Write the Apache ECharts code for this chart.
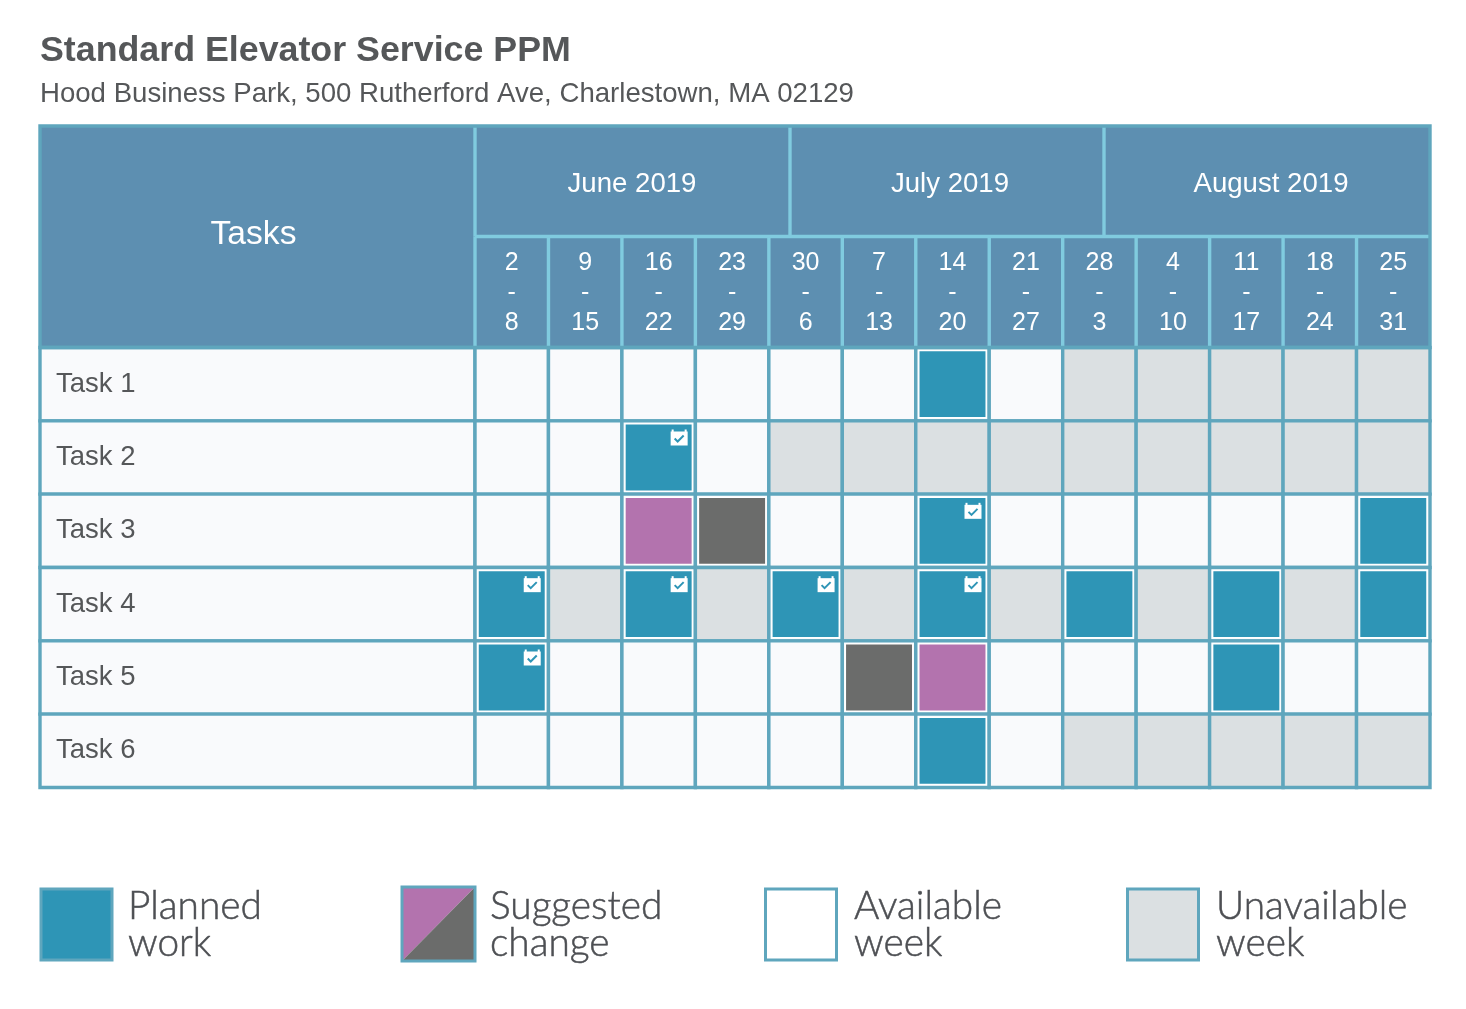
<!DOCTYPE html>
<html>
<head>
<meta charset="utf-8">
<title>Standard Elevator Service PPM</title>
<script src="https://cdn.jsdelivr.net/npm/echarts@6/dist/echarts.min.js"></script>
<style>
html, body { margin: 0; padding: 0; background: #fff; }
#chart { width: 1466px; height: 1009px; }
</style>
</head>
<body>
<div id="chart"></div>
<script>
var chartTitle = 'Standard Elevator Service PPM';
var chartSubtitle = 'Hood Business Park, 500 Rutherford Ave, Charlestown, MA 02129';
var months = ['June 2019', 'July 2019', 'August 2019'];
var weekStarts = ['2', '9', '16', '23', '30', '7', '14', '21', '28', '4', '11', '18', '25'];
var weekEnds = ['8', '15', '22', '29', '6', '13', '20', '27', '3', '10', '17', '24', '31'];
var tasks = ['Task 1', 'Task 2', 'Task 3', 'Task 4', 'Task 5', 'Task 6'];

// A available, U unavailable, P planned, D planned + done icon, S suggested, G moved away
var task1 = ['A', 'A', 'A', 'A', 'A', 'A', 'P', 'A', 'U', 'U', 'U', 'U', 'U'];
var task2 = ['A', 'A', 'D', 'A', 'U', 'U', 'U', 'U', 'U', 'U', 'U', 'U', 'U'];
var task3 = ['A', 'A', 'S', 'G', 'A', 'A', 'D', 'A', 'A', 'A', 'A', 'A', 'P'];
var task4 = ['D', 'U', 'D', 'U', 'D', 'U', 'D', 'U', 'P', 'U', 'P', 'U', 'P'];
var task5 = ['D', 'A', 'A', 'A', 'A', 'G', 'S', 'A', 'A', 'A', 'P', 'A', 'A'];
var task6 = ['A', 'A', 'A', 'A', 'A', 'A', 'P', 'A', 'U', 'U', 'U', 'U', 'U'];
var taskRows = [task1, task2, task3, task4, task5, task6];

var legendLabels = ['Planned\nwork', 'Suggested\nchange', 'Available\nweek', 'Unavailable\nweek'];

// colours
var lineColor = '#5fa6bd';
var headerColor = '#5d8fb1';
var headerLine = '#80cbdf';
var availColor = '#f9fafc';
var unavailColor = '#dbe0e2';
var plannedColor = '#2e95b6';
var suggestColor = '#b373ae';
var movedColor = '#6b6c6b';
var textColor = '#555759';

// layout
var gridL = 475, gridR = 1430, gridT = 347.5, gridB = 787.5, tableL = 40, tableT = 126;
var monthEdges = [475, 790, 1104, 1430];
var monthCentres = [632, 950, 1271];
var monthLineY = 236.5;

var weekLabels = weekStarts.map(function(s, i) {
	return s + '\n-\n' + weekEnds[i];
});

var cellData = [];
taskRows.forEach(function(row, r) {
	row.forEach(function(state, c) {
		cellData.push({ value : [c, r], state : state });
	});
});

var fillFor = { P : plannedColor, D : plannedColor, S : suggestColor, G : movedColor };

function renderCell(params, api) {
	var c = api.coord([api.value(0), api.value(1)]);
	var size = api.size([1, 1]);
	var x = c[0] - size[0] / 2, y = c[1] - size[1] / 2;
	var state = cellData[params.dataIndex].state;
	var children = [{
		type : 'rect',
		shape : { x : x, y : y, width : size[0], height : size[1] },
		style : { fill : state == 'U' ? unavailColor : availColor, stroke : lineColor, lineWidth : 3.4 }
	}];
	if (fillFor[state]) {
		children.push({
			type : 'rect',
			shape : { x : x + 3, y : y + 3, width : size[0] - 6, height : size[1] - 6 },
			style : { fill : fillFor[state], stroke : '#fff', lineWidth : 1.5 }
		});
	}
	if (state == 'D') {
		var ix = c[0] + 12, iy = c[1] - 28;
		children.push({ type : 'rect', shape : { x : ix, y : iy + 2, width : 17, height : 14 }, style : { fill : '#fff' } });
		children.push({ type : 'rect', shape : { x : ix + 1, y : iy, width : 2, height : 3 }, style : { fill : '#fff' } });
		children.push({ type : 'rect', shape : { x : ix + 14, y : iy, width : 2, height : 3 }, style : { fill : '#fff' } });
		children.push({
			type : 'polyline',
			shape : { points : [[ix + 4, iy + 9], [ix + 7, iy + 12], [ix + 13, iy + 6]] },
			style : { fill : 'none', stroke : plannedColor, lineWidth : 2 }
		});
	}
	return { type : 'group', children : children };
}

// label column on the left of the week cells
function renderTaskCell(params, api) {
	var c = api.coord([0, api.value(0)]);
	var size = api.size([1, 1]);
	return {
		type : 'rect',
		shape : { x : tableL, y : c[1] - size[1] / 2, width : gridL - tableL, height : size[1] },
		style : { fill : availColor, stroke : lineColor, lineWidth : 3.4 }
	};
}

function hLine(x1, y1, x2, y2, color, w) {
	return { type : 'line', z : 3, shape : { x1 : x1, y1 : y1, x2 : x2, y2 : y2 }, style : { stroke : color, lineWidth : w } };
}

function text(x, y, str, font, color, align) {
	return {
		type : 'text', z : 6, x : x, y : y,
		style : { text : str, font : font, fill : color, align : align || 'left', verticalAlign : 'middle' }
	};
}

// reference title is tracked out a bit, canvas text has no letter spacing here
var titleText = text(40, 51, chartTitle, 'bold 35px "Liberation Sans"', textColor);
titleText.scaleX = 1.022;

var graphics = [
	titleText,
	text(40, 94, chartSubtitle, '27.6px "Liberation Sans"', textColor),
	{
		type : 'rect', z : 1,
		shape : { x : tableL, y : tableT, width : gridR - tableL, height : gridT - tableT },
		style : { fill : headerColor }
	},
	hLine(gridL, monthLineY, gridR, monthLineY, headerLine, 3.4),
	text(253.5, 235, 'Tasks', '33.6px "Liberation Sans"', '#fff', 'center')
];

months.forEach(function(m, i) {
	graphics.push(text(monthCentres[i], 184, m, '27.6px "Liberation Sans"', '#fff', 'center'));
});
// month dividers, then week dividers
monthEdges.slice(0, 3).forEach(function(x) {
	graphics.push(hLine(x, tableT, x, monthLineY, headerLine, 3.4));
});
weekStarts.forEach(function(w, i) {
	var x = gridL + (gridR - gridL) * i / weekStarts.length;
	graphics.push(hLine(x, monthLineY, x, gridT, headerLine, 3.4));
});
// outer frame of header
graphics.push({
	type : 'rect', z : 4,
	shape : { x : tableL, y : tableT, width : gridR - tableL, height : gridT - tableT },
	style : { fill : 'none', stroke : lineColor, lineWidth : 3.4 }
});

// legend
var swatchY = 888, swatchS = 71;
var legendFont = '300 38.8px Lato, "Noto Sans"';
function legendLine(x, y, str) {
	var t = text(x, y, str, legendFont, '#4d4f53');
	t.style.stroke = '#4d4f53';
	t.style.lineWidth = 0.5;
	return t;
}
function legendText(x, label) {
	var lines = label.split('\n');
	return [legendLine(x, 906, lines[0]), legendLine(x, 943, lines[1])];
}
graphics.push({
	type : 'rect', shape : { x : 41, y : swatchY + 1, width : swatchS, height : swatchS },
	style : { fill : plannedColor, stroke : lineColor, lineWidth : 3 }
});
graphics.push({
	type : 'polygon', shape : { points : [[402, 887], [475, 887], [402, 961]] }, style : { fill : suggestColor }
});
graphics.push({
	type : 'polygon', shape : { points : [[475, 887], [475, 961], [402, 961]] }, style : { fill : movedColor }
});
graphics.push({
	type : 'rect', z : 2, shape : { x : 402, y : 887, width : 73, height : 74 },
	style : { fill : 'none', stroke : lineColor, lineWidth : 3 }
});
graphics.push({
	type : 'rect', shape : { x : 765.5, y : swatchY + 1, width : swatchS, height : swatchS },
	style : { fill : '#fff', stroke : lineColor, lineWidth : 3 }
});
graphics.push({
	type : 'rect', shape : { x : 1127.5, y : swatchY + 1, width : swatchS, height : swatchS },
	style : { fill : unavailColor, stroke : lineColor, lineWidth : 3 }
});
[128, 490, 854, 1216].forEach(function(x, i) {
	graphics = graphics.concat(legendText(x, legendLabels[i]));
});

var myChart = echarts.init(document.getElementById('chart'), null, { renderer : 'canvas' });

myChart.setOption({
	animation : false,
	backgroundColor : '#fff',
	grid : { left : gridL, top : gridT, width : gridR - gridL, height : gridB - gridT },
	graphic : { elements : graphics },
	tooltip : { show : false },
	xAxis : {
		type : 'category',
		position : 'top',
		data : weekLabels,
		z : 5,
		axisLine : { show : false },
		axisTick : { show : false },
		axisLabel : {
			interval : 0,
			color : '#fff',
			fontFamily : 'Liberation Sans',
			fontSize : 25,
			lineHeight : 30,
			margin : 9
		}
	},
	yAxis : {
		type : 'category',
		inverse : true,
		data : tasks,
		z : 5,
		axisLine : { show : false },
		axisTick : { show : false },
		axisLabel : {
			interval : 0,
			align : 'left',
			margin : 419,
			color : textColor,
			fontFamily : 'Liberation Sans',
			fontSize : 27.5,
			padding : [5, 0, 0, 0]
		}
	},
	series : [ {
		name : 'tasks',
		type : 'custom',
		clip : false,
		renderItem : renderTaskCell,
		encode : { y : 0 },
		data : tasks.map(function(t, i) { return [i]; })
	}, {
		name : 'weeks',
		type : 'custom',
		clip : false,
		renderItem : renderCell,
		encode : { x : 0, y : 1 },
		data : cellData
	} ]
});
</script>
</body>
</html>
